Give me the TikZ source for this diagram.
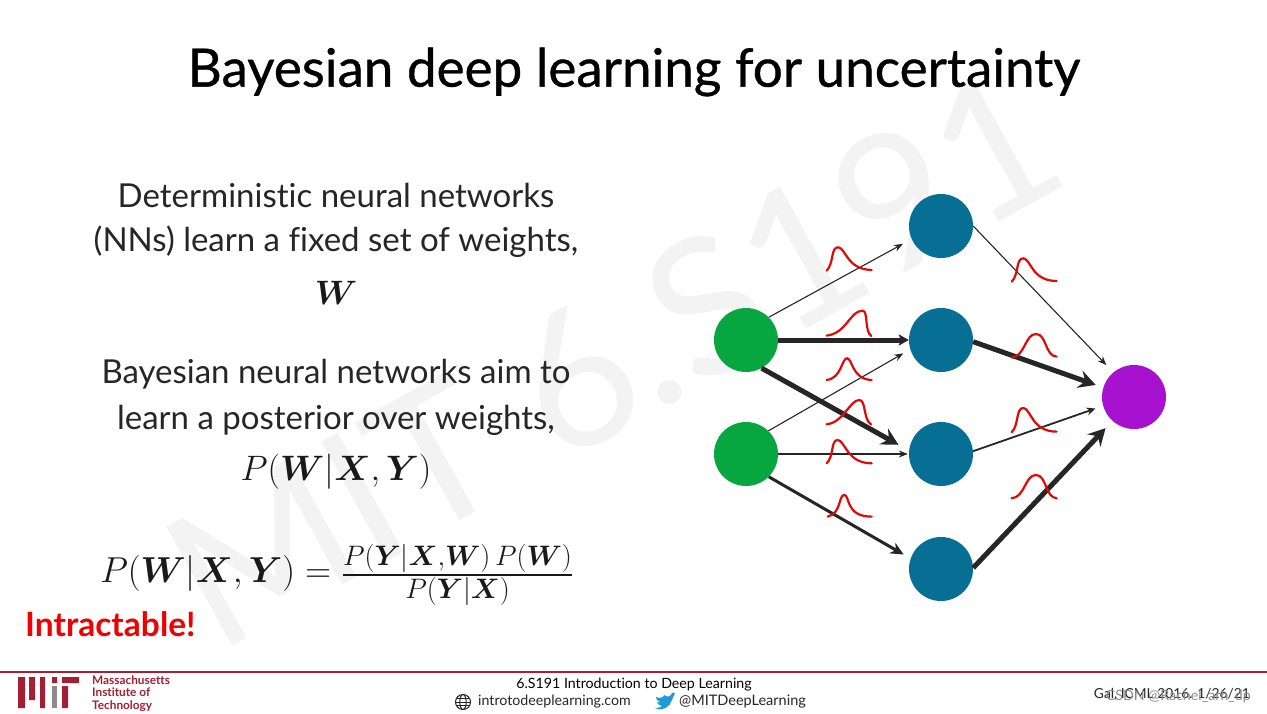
\documentclass[tikz,border=0pt]{standalone}
\usepackage{amsmath}
\usepackage{fontspec}
\setmainfont[Ligatures=NoCommon]{Lato}
\newfontfamily\titlefont[FakeBold=0.7]{Lato}
\usetikzlibrary{arrows.meta}
\definecolor{netblue}{HTML}{086F94}
\definecolor{netgreen}{HTML}{07A640}
\definecolor{netpurple}{HTML}{A612CF}
\definecolor{mitred}{HTML}{A31F34}
\definecolor{wmgray}{HTML}{F3F3F3}
\definecolor{edgeink}{HTML}{262626}
\definecolor{gaussred}{HTML}{E20808}
\definecolor{alertred}{HTML}{F00000}
\definecolor{birdblue}{HTML}{1D9BD8}
\tikzset{
 neuron/.style={circle,minimum size=64pt,inner sep=0pt,fill=#1},
 conn/.style={draw=edgeink,shorten >=8pt},
 thinconn/.style={conn,line width=1.1pt,-{Stealth[length=9pt,width=7pt,inset=3pt]}},
 midconn/.style={conn,line width=3pt,-{Stealth[length=13pt,width=12pt,inset=4pt]}},
 fatconn/.style={conn,line width=5pt,-{Stealth[length=17pt,width=18pt,inset=6pt]}},
 gauss/.style={draw=gaussred,line width=2.2pt,line cap=round},
 body/.style={font=\fontsize{33}{36}\selectfont,text=black!85,inner sep=0pt,anchor=center},
 mathbody/.style={inner sep=0pt,text=black!90,font=\fontsize{24}{28}\selectfont},
 foot/.style={font=\fontsize{14.2}{17}\selectfont,inner sep=0pt,text=black!85},
}
\begin{document}
\begin{tikzpicture}[x=1pt,y=-1pt]
\useasboundingbox[fill=white] (0,0) rectangle (1267,713);
% watermark
\node[rotate=29,text=wmgray,inner sep=0pt,font=\fontsize{190}{190}\selectfont] (wm) at (613,358) {MIT 6.S191};
% title and text
\node[inner sep=0pt,font=\titlefont\fontsize{53}{56}\selectfont,text=black] (title) at (634,72) {Bayesian deep learning for uncertainty};
\node[body] (t1) at (336,195) {Deterministic neural networks};
\node[body] (t2) at (336,242) {(NNs) learn a fixed set of weights,};
\node[mathbody,scale=1.36] (t3) at (336,293) {$\boldsymbol{W}$};
\node[body] (t4) at (336,374) {Bayesian neural networks aim to};
\node[body] (t5) at (336,420) {learn a posterior over weights,};
\node[mathbody,scale=1.42] (t6) at (336,472) {$P(\boldsymbol{W}|\boldsymbol{X},\boldsymbol{Y})$};
\node[mathbody,scale=1.45,anchor=west] (t7a) at (100,573) {$P(\boldsymbol{W}|\boldsymbol{X},\boldsymbol{Y}) =$};
\node[mathbody,scale=1.63] (t7b) at (457.5,575) {$\frac{P(\boldsymbol{Y}|\boldsymbol{X},\boldsymbol{W})\,P(\boldsymbol{W})}{P(\boldsymbol{Y}|\boldsymbol{X})}$};
\node[inner sep=0pt,anchor=west,text=alertred,font=\fontsize{33.5}{36}\selectfont\bfseries] (t8) at (25,624) {Intractable!};
% network
\node[neuron=netgreen] (g1) at (746,340) {};
\node[neuron=netgreen] (g2) at (746,454) {};
\node[neuron=netblue] (b1) at (941,226) {};
\node[neuron=netblue] (b2) at (941,340) {};
\node[neuron=netblue] (b3) at (941,454) {};
\node[neuron=netblue] (b4) at (941,569) {};
\node[neuron=netpurple] (p) at (1134,397) {};
\draw[thinconn,shorten >=10pt] (g1.45) -- (b1.204);
\draw[fatconn,shorten >=0pt,-{Stealth[length=10pt,width=11pt,inset=2pt]}] (g1) -- (b2);
\draw[fatconn,shorten >=12pt] (g1.299) -- (b3.174);
\draw[thinconn] (g2.46) -- (b2.197);
\draw[thinconn,shorten >=1pt] (g2) -- (b3);
\draw[midconn] (g2.315) -- (b4.161);
\draw[thinconn,shorten >=10pt] (b1.0) -- (p.130);
\draw[fatconn] (b2.-3) -- (p.163);
\draw[midconn,line width=1.8pt,-{Stealth[length=9pt,width=8pt,inset=3pt]}] (b3.5) -- (p.196);
\draw[fatconn,shorten >=10pt] (b4.2) -- (p.228);
% gaussians
\begin{scope}[shift={(700,180)},x=.3333pt,y=-.3333pt]
\draw[gauss] (380,272) .. controls (402,250) and (392,200) .. (415,202) .. controls (438,205) and (440,268) .. (515,270);
\draw[gauss] (380,467) .. controls (440,460) and (450,392) .. (488,392) .. controls (505,392) and (493,455) .. (514,468);
\draw[gauss] (380,600) .. controls (425,595) and (425,535) .. (441,535) .. controls (458,535) and (455,598) .. (515,600);
\draw[gauss] (380,733) .. controls (430,728) and (450,660) .. (478,660) .. controls (498,660) and (490,720) .. (513,733);
\draw[gauss] (380,850) .. controls (402,830) and (392,780) .. (413,780) .. controls (436,782) and (440,850) .. (515,850);
\draw[gauss] (383,1010) .. controls (425,1000) and (415,945) .. (433,945) .. controls (450,945) and (435,1010) .. (515,1010);
\draw[gauss] (935,305) .. controls (957,285) and (947,235) .. (970,235) .. controls (993,237) and (995,303) .. (1070,303);
\draw[gauss] (935,533) .. controls (975,530) and (975,462) .. (1008,462) .. controls (1040,462) and (1035,528) .. (1070,530);
\draw[gauss] (935,757) .. controls (957,737) and (947,684) .. (970,684) .. controls (993,686) and (995,755) .. (1070,755);
\draw[gauss] (935,955) .. controls (975,952) and (975,885) .. (1008,885) .. controls (1040,885) and (1035,952) .. (1070,955);
\end{scope}
% footer
\draw[mitred,line width=2pt] (0,672) -- (1267,672);
\fill[mitred] (18,677) rectangle (25,708) (29,677) rectangle (35,700) (40,677) rectangle (45,708);
\fill[black!45] (52,686) rectangle (57,708);
\fill[mitred] (52,677) rectangle (57,683) (62,677) rectangle (79,683) (62,686) rectangle (68,708);
\node[inner sep=0pt,anchor=west,text=mitred,align=left,font=\fontsize{11.8}{12.5}\selectfont\bfseries] (mit) at (92,693.5) {Massachusetts\\Institute of\\Technology};
\node[foot,text=black] (f1) at (634,685) {6.S191 Introduction to Deep Learning};
\node[foot,anchor=west] (f2) at (478,702) {introtodeeplearning.com};
\node[foot,anchor=west,font=\fontsize{14.5}{17}\selectfont] (f3) at (679,702) {@MITDeepLearning};
\node[foot,anchor=east,font=\fontsize{13.8}{17}\selectfont] (f4) at (1250,694) {Gal, ICML 2016. 1/26/21};
\node[foot,anchor=east,text=black!45] (f5) at (1251,696) {CSDN @Rachel\_arh\_dp};
% globe
\begin{scope}[shift={(463,702)},black!85,line width=1pt]
\draw (0,0) circle (7.5);
\draw (0,0) ellipse (3.2 and 7.5);
\draw (-7.5,0) -- (7.5,0) (-6.5,-3.7) -- (6.5,-3.7) (-6.5,3.7) -- (6.5,3.7);
\end{scope}
% bird
\fill[birdblue] (656,697) .. controls (660,699) and (664,697) .. (664,695) .. controls (668,698) and (671,696) .. (672,693) .. controls (674,692) and (675,693) .. (675,693) .. controls (673,697) and (673,698) .. (672,700) .. controls (670,707) and (662,712) .. (655,708) .. controls (659,708) and (661,707) .. (662,706) .. controls (658,705) and (657,703) .. (657,702) .. controls (658,703) and (659,702) .. (660,702) .. controls (657,701) and (656,699) .. (656,697) -- cycle;
\end{tikzpicture}
\end{document}
